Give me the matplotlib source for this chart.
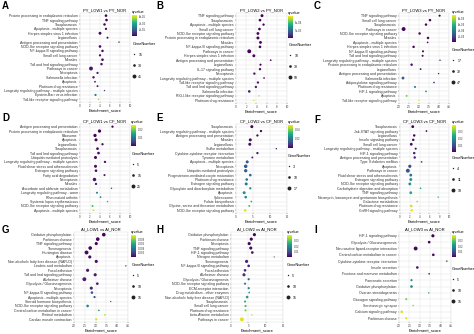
import numpy as np
import matplotlib.pyplot as plt
from matplotlib.lines import Line2D
from matplotlib.cm import ScalarMappable
from matplotlib.colors import Normalize

W, H = 474, 334
plt.rcParams['font.family'] = ['Liberation Sans', 'DejaVu Sans']

# A: PY_LOW1 vs PY_NOR
a_terms = ['Protein processing in endoplasmic reticulum', 'TNF signaling pathway', 'Toxoplasmosis',
           'Apoptosis - multiple species', 'Herpes simplex virus 1 infection', 'Legionellosis',
           'Antigen processing and presentation', 'NOD-like receptor signaling pathway',
           'NF-kappa B signaling pathway', 'Small cell lung cancer', 'Measles', 'Toll and Imd signaling pathway',
           'Pathways in cancer', 'Necroptosis', 'Salmonella infection', 'Apoptosis', 'Platinum drug resistance',
           'Longevity regulating pathway - multiple species', 'Epstein-Barr virus infection',
           'Toll-like receptor signaling pathway']
a_score = [5.2, 5.3, 4.9, 5.2, 4.0, 5.5, 7.8, 4.0, 4.5, 4.0, 4.5, 4.3, 2.2, 3.5, 2.7, 3.0, 3.5, 4.9, 3.1, 3.7]
a_q = [0.01e-5, 0.02e-5, 0.03e-5, 0.05e-5, 0.08e-5, 0.1e-5, 0.12e-5, 0.15e-5, 0.2e-5, 0.25e-5,
       0.3e-5, 0.35e-5, 0.4e-5, 0.5e-5, 0.6e-5, 0.7e-5, 0.8e-5, 1.2e-5, 2.8e-5, 5.6e-5]
a_genes = [30, 30, 28, 25, 33, 22, 15, 30, 28, 25, 30, 28, 45, 25, 28, 20, 22, 15, 25, 15]

# B: PY_LOW2 vs PY_NOR
b_terms = ['TNF signaling pathway', 'Toxoplasmosis', 'Apoptosis - multiple species', 'Small cell lung cancer',
           'NOD-like receptor signaling pathway', 'Protein processing in endoplasmic reticulum', 'Measles',
           'NF-kappa B signaling pathway', 'Pathways in cancer', 'Herpes simplex virus 1 infection',
           'Antigen processing and presentation', 'Legionellosis', 'IL-17 signaling pathway', 'Necroptosis',
           'Longevity regulating pathway - multiple species', 'Toll-like receptor signaling pathway',
           'Toll and Imd signaling pathway', 'Salmonella infection', 'RIG-I-like receptor signaling pathway',
           'Platinum drug resistance']
b_score = [5.1, 4.7, 5.4, 4.6, 4.3, 4.3, 4.8, 4.7, 2.6, 3.5, 6.8, 4.8, 4.7, 3.6, 5.5, 4.3, 3.9, 2.6, 4.5, 3.5]
b_q = [0.01e-5, 0.02e-5, 0.03e-5, 0.04e-5, 0.05e-5, 0.06e-5, 0.08e-5, 0.1e-5, 0.12e-5, 0.15e-5,
       0.2e-5, 0.3e-5, 0.4e-5, 0.5e-5, 0.7e-5, 0.9e-5, 1.2e-5, 1.5e-5, 11.5e-5, 13.5e-5]
b_genes = [35, 30, 25, 30, 33, 35, 33, 30, 50, 35, 15, 22, 25, 25, 15, 25, 25, 30, 10, 12]

# C: PY_LOW3 vs PY_NOR
c_terms = ['TNF signaling pathway', 'Small cell lung cancer', 'Toxoplasmosis', 'Pathways in cancer',
           'NOD-like receptor signaling pathway', 'Measles', 'Apoptosis - multiple species',
           'Herpes simplex virus 1 infection', 'NF-kappa B signaling pathway', 'Toll and Imd signaling pathway',
           'Longevity regulating pathway - multiple species', 'Protein processing in endoplasmic reticulum',
           'Legionellosis', 'Antigen processing and presentation', 'Salmonella infection',
           'Adipocytokine signaling pathway', 'Platinum drug resistance', 'HIF-1 signaling pathway', 'Apoptosis',
           'Toll-like receptor signaling pathway']
c_score = [4.03, 3.55, 3.35, 2.23, 3.03, 3.45, 3.43, 2.73, 3.20, 3.18, 4.05, 2.63, 3.08, 3.98, 2.20, 3.75,
           2.80, 3.35, 2.38, 3.00]
c_q = [0.01e-4, 0.02e-4, 0.03e-4, 0.05e-4, 0.08e-4, 0.1e-4, 0.15e-4, 0.2e-4, 0.25e-4, 0.3e-4,
       0.35e-4, 0.4e-4, 0.5e-4, 0.6e-4, 2.7e-4, 1.0e-4, 4.0e-4, 5.0e-4, 7.2e-4, 8.8e-4]
c_genes = [25, 30, 30, 47, 30, 30, 20, 30, 25, 25, 17, 30, 22, 17, 35, 20, 25, 22, 25, 17]

# D: CF_LOW1 vs CF_NOR
d_terms = ['Antigen processing and presentation', 'Protein processing in endoplasmic reticulum', 'Ribosome',
           'Apoptosis', 'Legionellosis', 'Toxoplasmosis', 'Toll and Imd signaling pathway',
           'Ubiquitin mediated proteolysis', 'Longevity regulating pathway - multiple species',
           'Fluid shear stress and atherosclerosis', 'Estrogen signaling pathway', 'Fatty acid degradation',
           'Necroptosis', 'Measles', 'Ascorbate and aldarate metabolism', 'Longevity regulating pathway - worm',
           'Rheumatoid arthritis', 'Systemic lupus erythematosus', 'NOD-like receptor signaling pathway',
           'Apoptosis - multiple species']
d_score = [6.5, 3.9, 3.0, 3.2, 4.5, 3.5, 3.7, 3.1, 5.0, 3.1, 3.2, 4.9, 2.9, 3.2, 6.3, 3.4, 4.1, 5.5, 2.5, 2.7]
d_q = [0.01e-3, 0.02e-3, 0.05e-3, 0.1e-3, 0.2e-3, 0.3e-3, 0.4e-3, 0.5e-3, 0.6e-3, 0.8e-3,
       1.0e-3, 1.2e-3, 1.5e-3, 2.0e-3, 7.5e-3, 11e-3, 12.5e-3, 16e-3, 17.5e-3, 23.5e-3]
d_genes = [12, 20, 20, 18, 12, 15, 15, 18, 12, 18, 15, 10, 22, 12, 6, 10, 8, 6, 10, 8]

# E: CF_LOW2 vs CF_NOR
e_terms = ['Toxoplasmosis', 'Longevity regulating pathway - multiple species', 'Antigen processing and presentation',
           'Measles', 'Legionellosis', 'Sulfur metabolism', 'Cytokine-cytokine receptor interaction',
           'Tyrosine metabolism', 'Apoptosis - multiple species', 'Necroptosis', 'Ubiquitin mediated proteolysis',
           'Progesterone-mediated oocyte maturation', 'Platinum drug resistance', 'Estrogen signaling pathway',
           'Glyoxylate and dicarboxylate metabolism', 'Apoptosis', 'Spliceosome', 'Folate biosynthesis',
           'Glycine, serine and threonine metabolism', 'NOD-like receptor signaling pathway']
e_score = [4.65, 7.35, 6.3, 4.2, 4.05, 11.85, 6.3, 4.8, 3.3, 2.85, 2.85, 4.2, 3.15, 3.0, 4.2, 2.4, 2.85, 4.5, 3.9, 2.7]
e_q = [0.01e-2, 0.02e-2, 0.05e-2, 0.1e-2, 0.15e-2, 0.2e-2, 0.3e-2, 0.5e-2, 1.3e-2, 1.4e-2,
       1.5e-2, 1.7e-2, 1.9e-2, 2.0e-2, 2.5e-2, 2.5e-2, 2.6e-2, 3.2e-2, 3.5e-2, 4.8e-2]
e_genes = [12, 8, 8, 12, 12, 3, 8, 6, 12, 15, 14, 10, 10, 12, 8, 12, 10, 5, 6, 10]

# F: CF_LOW3 vs CF_NOR
f_terms = ['Toxoplasmosis', 'Jak-STAT signaling pathway', 'Legionellosis', 'Insulin signaling pathway',
           'Small cell lung cancer', 'Longevity regulating pathway - multiple species', 'HIF-1 signaling pathway',
           'Antigen processing and presentation', 'Type II diabetes mellitus', 'Apoptosis', 'Pathways in cancer',
           'Fluid shear stress and atherosclerosis', 'Estrogen signaling pathway',
           'NOD-like receptor signaling pathway', 'Carbohydrate digestion and absorption', 'TNF signaling pathway',
           'Neomycin, kanamycin and gentamicin biosynthesis', 'Galactose metabolism', 'Platinum drug resistance',
           'GnRH signaling pathway']
f_score = [2.6, 5.4, 2.9, 2.7, 2.3, 3.2, 2.9, 3.0, 4.4, 2.0, 1.6, 2.2, 2.2, 2.0, 4.2, 2.2, 7.8, 3.5, 2.3, 2.4]
f_q = [0.01e-2, 0.02e-2, 0.05e-2, 0.1e-2, 0.15e-2, 0.2e-2, 0.3e-2, 0.4e-2, 1.1e-2, 0.9e-2,
       1.0e-2, 1.6e-2, 1.8e-2, 2.0e-2, 2.2e-2, 2.4e-2, 2.6e-2, 3.5e-2, 3.7e-2, 3.9e-2]
f_genes = [12, 6, 10, 10, 12, 8, 10, 10, 6, 14, 18, 12, 12, 12, 5, 12, 4, 6, 10, 10]

# G: AI_LOW1 vs AI_NOR
g_terms = ['Oxidative phosphorylation', 'Parkinson disease', 'TNF signaling pathway', 'Thermogenesis',
           'Huntington disease', 'Apoptosis', 'Non-alcoholic fatty liver disease (NAFLD)',
           'Linoleic acid metabolism', 'Focal adhesion', 'Toll and Imd signaling pathway', 'Alzheimer disease',
           'Glycolysis / Gluconeogenesis', 'Necroptosis', 'NF-kappa B signaling pathway',
           'Apoptosis - multiple species', 'Steroid hormone biosynthesis', 'NOD-like receptor signaling pathway',
           'Central carbon metabolism in cancer', 'Retinol metabolism', 'Cardiac muscle contraction']
g_score = [3.38, 3.10, 3.03, 2.75, 2.58, 2.73, 3.03, 4.40, 2.63, 2.98, 2.48, 3.08, 2.80, 2.83, 2.95, 3.70,
           2.63, 3.15, 3.43, 3.03]
g_q = [0.01e-3, 0.02e-3, 0.05e-3, 0.1e-3, 0.2e-3, 0.3e-3, 0.4e-3, 1.8e-3, 0.6e-3, 0.7e-3,
       0.8e-3, 0.9e-3, 1.0e-3, 2.8e-3, 2.3e-3, 4.0e-3, 4.5e-3, 5.5e-3, 8.8e-3, 9.3e-3]
g_genes = [14, 14, 12, 14, 15, 12, 12, 5, 12, 12, 15, 10, 12, 10, 8, 5, 10, 6, 6, 8]

# H: AI_LOW2 vs AI_NOR
h_terms = ['Oxidative phosphorylation', 'Parkinson disease', 'Necroptosis', 'TNF signaling pathway',
           'HIF-1 signaling pathway', 'Nitrogen metabolism', 'Thermogenesis', 'NF-kappa B signaling pathway',
           'Focal adhesion', 'Alzheimer disease', 'Glycolysis / Gluconeogenesis',
           'NOD-like receptor signaling pathway', 'ECM-receptor interaction', 'Drug metabolism - other enzymes',
           'Non-alcoholic fatty liver disease (NAFLD)', 'Toxoplasmosis', 'Small cell lung cancer',
           'Platinum drug resistance', 'beta-Alanine metabolism', 'Pathways in cancer']
h_score = [6.75, 5.85, 5.25, 5.7, 6.15, 12.45, 4.5, 5.1, 4.05, 3.75, 5.1, 4.05, 5.1, 5.25, 4.65, 4.05, 4.2,
           4.2, 6.0, 3.15]
h_q = [0.01e-2, 0.02e-2, 0.05e-2, 0.1e-2, 0.15e-2, 0.2e-2, 0.3e-2, 0.4e-2, 0.5e-2, 0.6e-2,
       1.2e-2, 1.6e-2, 1.7e-2, 1.8e-2, 2.2e-2, 2.6e-2, 2.7e-2, 3.2e-2, 3.6e-2, 3.8e-2]
h_genes = [12, 12, 12, 12, 10, 3, 12, 10, 10, 12, 8, 8, 8, 6, 10, 8, 8, 8, 5, 15]

# I: AI_LOW3 vs AI_NOR
i_terms = ['HIF-1 signaling pathway', 'Glycolysis / Gluconeogenesis', 'Neuroactive ligand-receptor interaction',
           'Central carbon metabolism in cancer', 'Cytokine-cytokine receptor interaction', 'Insulin secretion',
           'Fructose and mannose metabolism', 'Pancreatic secretion', 'Oxidative phosphorylation',
           'Ovarian steroidogenesis', 'Glucagon signaling pathway', 'Serotonergic synapse',
           'Calcium signaling pathway', 'Parkinson disease']
i_score = [3.63, 3.45, 2.80, 3.65, 4.30, 2.88, 3.45, 2.60, 2.60, 3.43, 2.35, 2.68, 2.13, 2.35]
i_q = [0.01e-2, 0.02e-2, 0.05e-2, 0.1e-2, 0.2e-2, 0.3e-2, 0.4e-2, 1.8e-2, 1.8e-2, 2.0e-2,
       3.2e-2, 3.4e-2, 3.8e-2, 3.8e-2]
i_genes = [12, 10, 15, 10, 5, 10, 6, 8, 10, 5, 8, 6, 10, 8]

titles = ['PY_LOW1 vs PY_NOR', 'PY_LOW2 vs PY_NOR', 'PY_LOW3 vs PY_NOR',
          'CF_LOW1 vs CF_NOR', 'CF_LOW2 vs CF_NOR', 'CF_LOW3 vs CF_NOR',
          'AI_LOW1 vs AI_NOR', 'AI_LOW2 vs AI_NOR', 'AI_LOW3 vs AI_NOR']
x_ticks = [[0, 2, 4, 6, 8, 10], [0, 2, 4, 6, 8, 10], [2.0, 2.5, 3.0, 3.5, 4.0, 4.5],
           [0, 2, 4, 6, 8, 10], [0, 5, 10, 15], [0, 2, 4, 6, 8, 10],
           [2.0, 2.5, 3.0, 3.5, 4.0, 4.5], [0, 5, 10, 15], [2.0, 2.5, 3.0, 3.5, 4.0, 4.5]]
x_ticklabels = [['0', '2', '4', '6', '8', '10'], ['0', '2', '4', '6', '8', '10'],
                ['2.0', '2.5', '3.0', '3.5', '4.0', '4.5'], ['0', '2', '4', '6', '8', '10'],
                ['0', '5', '10', '15'], ['0', '2', '4', '6', '8', '10'],
                ['2.0', '2.5', '3.0', '3.5', '4.0', '4.5'], ['0', '5', '10', '15'],
                ['2.0', '2.5', '3.0', '3.5', '4.0', '4.5']]
q_max = [6.5e-5, 1.4e-4, 9e-4, 0.025, 0.05, 0.04, 0.01, 0.04, 0.04]
q_ticks = [[2e-5, 4e-5, 6e-5], [5e-5, 1e-4], [2e-4, 4e-4, 6e-4, 8e-4], [0.01, 0.02], [0.02, 0.04],
           [0.01, 0.02, 0.03], [0.002, 0.004, 0.006, 0.008], [0.01, 0.02, 0.03], [0.01, 0.02, 0.03]]
q_ticklabels = [['2e-05', '4e-05', '6e-05'], ['5e-05', '1e-04'], ['2e-04', '4e-04', '6e-04', '8e-04'],
                ['0.01', '0.02'], ['0.02', '0.04'], ['0.01', '0.02', '0.03'],
                ['0.002', '0.004', '0.006', '0.008'], ['0.01', '0.02', '0.03'], ['0.01', '0.02', '0.03']]
gene_breaks = [[15, 30, 45], [10, 30, 50], [17, 32, 47], [5, 15, 25], [3, 10, 17],
               [4, 11, 18], [5, 10, 15], [5, 10, 15], [5, 10, 15]]

panels = [(a_terms, a_score, a_q, a_genes), (b_terms, b_score, b_q, b_genes), (c_terms, c_score, c_q, c_genes),
          (d_terms, d_score, d_q, d_genes), (e_terms, e_score, e_q, e_genes), (f_terms, f_score, f_q, f_genes),
          (g_terms, g_score, g_q, g_genes), (h_terms, h_score, h_q, h_genes), (i_terms, i_score, i_q, i_genes)]

# layout in pixels (x0, y0, x1, y1), top-left origin
plot_boxes = [(80, 13, 130, 102), (236, 13, 287, 103), (399, 13, 449, 103),
              (80, 124, 130, 213), (236, 124, 287, 213), (400, 124, 449, 213),
              (74, 232, 128, 322), (231, 232, 283, 322), (399, 232, 451, 322)]
cbar_boxes = [(132, 15, 137, 36), (288, 16, 293, 38), (452, 15, 456, 42),
              (131, 125, 136, 146), (288, 125, 293, 148), (452, 125, 456, 152),
              (131, 235, 136, 257), (287, 235, 292, 257), (452, 235, 456, 257)]
legend_xy = [(131, 40), (287, 41), (450, 46), (130, 150), (286, 152), (450, 154),
             (130, 261), (285, 261), (450, 265)]
letter_xy = [(2, 1), (156, 1), (314, 1), (2, 113), (156, 113), (314, 115), (2, 225), (156, 225), (314, 225)]
letters = 'ABCDEFGHI'


def px_box(x0, y0, x1, y1):
    return [x0 / W, 1 - y1 / H, (x1 - x0) / W, (y1 - y0) / H]


def dot_size(g, lo, hi):
    return (1.0 + 1.8 * (g - lo) / (hi - lo)) ** 2


fig = plt.figure(figsize=(W / 100, H / 100), dpi=100)

for k in range(9):
    terms, score, q, genes = panels[k]
    lo, hi = gene_breaks[k][0], gene_breaks[k][-1]
    norm = Normalize(0, q_max[k])
    ax = fig.add_axes(px_box(*plot_boxes[k]))
    ypos = np.arange(len(terms))
    sizes = [max(dot_size(g, lo, hi), 0.6) for g in genes]
    ax.scatter(score, ypos, s=sizes, c=q, cmap='viridis', norm=norm, edgecolors='none', zorder=3)
    ax.set_yticks(ypos, terms)
    ax.set_ylim(len(terms) - 0.4, -0.6)
    ax.set_xticks(x_ticks[k], x_ticklabels[k])
    ax.set_xlim(x_ticks[k][0], x_ticks[k][-1])
    ax.tick_params(axis='y', labelsize=2.5, length=0.8, width=0.3, pad=0.8, colors='#333333')
    ax.tick_params(axis='x', labelsize=2, length=0.8, width=0.3, pad=0.6, colors='#333333')
    ax.grid(color='#e4e4e4', lw=0.35)
    ax.set_axisbelow(True)
    for sp in ax.spines.values():
        sp.set_color('#e0e0e0')
        sp.set_linewidth(0.35)
    ax.set_title(titles[k], fontsize=3, pad=1.5)
    ax.set_xlabel('Enrichment_score', fontsize=3, labelpad=0.5)

    cax = fig.add_axes(px_box(*cbar_boxes[k]))
    cb = fig.colorbar(ScalarMappable(norm=norm, cmap='viridis'), cax=cax)
    cb.outline.set_visible(False)
    cb.set_ticks(q_ticks[k], labels=q_ticklabels[k])
    cax.tick_params(labelsize=2, length=0, pad=1, colors='#333333')
    cax.set_title('q-value', fontsize=2.8, loc='left', pad=1.2)

    handles = [Line2D([], [], ls='none', marker='o', ms=np.sqrt(dot_size(v, lo, hi)),
                      mfc='#222222', mec='none') for v in gene_breaks[k]]
    lx, ly = legend_xy[k]
    fig.legend(handles, [str(v) for v in gene_breaks[k]], title='GeneNumber', loc='upper left',
               bbox_to_anchor=(lx / W, 1 - ly / H), frameon=False, fontsize=2.5, title_fontsize=2.8,
               labelspacing=2.0, handlelength=0.6, handletextpad=1.0, borderpad=0, alignment='left')

    tx, ty = letter_xy[k]
    fig.text(tx / W, 1 - ty / H, letters[k], fontsize=7, fontweight='bold', va='top', ha='left')

fig.savefig('out.png', dpi=100)
